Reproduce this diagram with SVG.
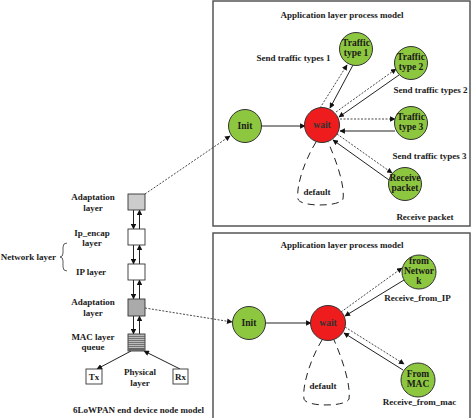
<svg xmlns="http://www.w3.org/2000/svg" width="474" height="418" viewBox="0 0 474 418">
<style>
text{font-family:"Liberation Serif","Times New Roman",serif;font-weight:bold;font-size:9px;fill:#1a1a1a}
.c{text-anchor:middle}
.r{text-anchor:end}
.n{font-size:9.5px}
.frame{fill:#fff;stroke:#555;stroke-width:1.5}
.g{fill:#8dc63f;stroke:#333;stroke-width:1}
.red{fill:#ee1c1c;stroke:#333;stroke-width:1}
.box{stroke:#333;stroke-width:0.9}
.s{fill:none;stroke:#222;stroke-width:1;marker-end:url(#ah)}
.d{fill:none;stroke:#333;stroke-width:0.9;stroke-dasharray:2 1.5;marker-end:url(#ah)}
.loop{fill:none;stroke:#222;stroke-width:1;stroke-dasharray:7 5}
</style>
<defs>
<marker id="ah" viewBox="0 0 10 10" refX="9" refY="5" markerWidth="6" markerHeight="5.5" markerUnits="userSpaceOnUse" orient="auto">
<path d="M0,0 L10,5 L0,10 z" fill="#111"/>
</marker>
</defs>
<rect width="474" height="418" fill="#fff"/>
<rect class="frame" x="213" y="1" width="257" height="225"/>
<rect class="frame" x="213" y="233" width="257" height="190"/>

<g id="connectors">
<path class="s" d="M133.5,210 L133.5,229"/>
<path class="s" d="M139.5,229 L139.5,210"/>
<path class="s" d="M133.5,245 L133.5,264"/>
<path class="s" d="M139.5,264 L139.5,245"/>
<path class="s" d="M133.5,280 L133.5,299"/>
<path class="s" d="M139.5,299 L139.5,280"/>
<path class="s" d="M133.5,316 L133.5,334"/>
<path class="s" d="M139.5,334 L139.5,316"/>
<path class="s" d="M131,351 L97,369"/>
<path class="s" d="M180,369 L144,351"/>
<path class="d" d="M145,194 L230,136"/>
<path class="d" d="M145,308 L232,322"/>
<path class="s" d="M261,126 L305,126"/>
<path class="d" d="M320,108 L347,65"/>
<path class="s" d="M353,65 L330,108"/>
<path class="d" d="M336,112 L396,69"/>
<path class="s" d="M399,75 L339,117"/>
<path class="d" d="M340,119 L395,119"/>
<path class="s" d="M395,131 L340,131"/>
<path class="d" d="M337,134 L392,173"/>
<path class="s" d="M389,180 L333,140"/>
<path class="loop" d="M316,142 C305,160 296,185 298,199 C300,207 340,207 343,199 C345,185 336,160 328,142"/>
<path class="s" d="M265,323 L311,323"/>
<path class="d" d="M341,312 L402,268"/>
<path class="s" d="M404,280 L345,316"/>
<path class="d" d="M345,327 L404,364"/>
<path class="s" d="M403,370 L344,333"/>
<path class="loop" d="M322,340 C311,358 302,385 304,399 C306,407 346,407 349,399 C351,385 342,358 334,340"/>
<path d="M67,243 Q63,243 63,247 L63,253 Q63,257 60,257 Q63,257 63,261 L63,267 Q63,271 67,271" fill="none" stroke="#333" stroke-width="0.8"/>
</g>

<g id="adapt1"><rect class="box" x="128" y="194" width="17" height="16" fill="#cccccc"/></g>
<g id="ipencap"><rect class="box" x="128" y="229" width="17" height="16" fill="#fff"/></g>
<g id="iplayer"><rect class="box" x="128" y="264" width="17" height="16" fill="#fff"/></g>
<g id="adapt2"><rect class="box" x="128" y="299" width="17" height="17" fill="#aaaaaa"/></g>
<g id="macqueue">
<rect x="128" y="334" width="17" height="17" fill="#bbb" stroke="#333" stroke-width="0.9"/>
<path d="M128,336.5 H145 M128,338.5 H145 M128,340.5 H145 M128,342.5 H145 M128,344.5 H145 M128,346.5 H145" stroke="#555" stroke-width="0.7"/>
<rect x="128" y="348" width="17" height="3" fill="#666"/>
</g>
<g id="tx"><rect class="box" x="86" y="369" width="16" height="15" fill="#fff"/><text class="c" x="94" y="380">Tx</text></g>
<g id="rx"><rect class="box" x="173" y="369" width="15" height="15" fill="#fff"/><text class="c" x="180.5" y="380">Rx</text></g>

<g id="labels-left">
<text class="c" x="93" y="200">Adaptation</text>
<text class="c" x="93" y="211">layer</text>
<text class="c" x="92" y="236">Ip_encap</text>
<text class="c" x="92" y="246">layer</text>
<text class="c" x="91" y="275">IP layer</text>
<text class="c" x="93" y="305">Adaptation</text>
<text class="c" x="93" y="316">layer</text>
<text class="c" x="93" y="340">MAC layer</text>
<text class="c" x="93" y="350">queue</text>
<text class="c" x="140" y="375">Physical</text>
<text class="c" x="140" y="386">layer</text>
<text class="r" x="56" y="260">Network layer</text>
<text class="c" x="138.5" y="413">6LoWPAN end device node model</text>
</g>

<g id="top-model">
<text class="c" x="342" y="18">Application layer process model</text>
<g id="t-init"><circle class="g" cx="245" cy="126" r="16.5"/><text class="c n" x="245" y="129">Init</text></g>
<g id="t-wait"><circle class="red" cx="322" cy="125" r="17.5"/><text class="c n" x="322" y="128" style="fill:#333">wait</text></g>
<g id="t-tt1"><circle class="g" cx="356" cy="49" r="16.5"/><text class="c n" x="356" y="46">Traffic</text><text class="c n" x="356" y="56">type 1</text></g>
<g id="t-tt2"><circle class="g" cx="411" cy="63" r="16.5"/><text class="c n" x="411" y="60">Traffic</text><text class="c n" x="411" y="70">type 2</text></g>
<g id="t-tt3"><circle class="g" cx="411" cy="123" r="16.5"/><text class="c n" x="411" y="120">Traffic</text><text class="c n" x="411" y="130">type 3</text></g>
<g id="t-rp"><circle class="g" cx="405" cy="184" r="16.5"/><text class="c n" x="405" y="181">Receive</text><text class="c n" x="405" y="191">packet</text></g>
<text class="c" x="293.5" y="61">Send traffic types 1</text>
<text class="c" x="430.5" y="93">Send traffic types 2</text>
<text class="c" x="429.5" y="159">Send traffic types 3</text>
<text class="c" x="425" y="220">Receive packet</text>
<text class="c" x="317" y="195">default</text>
</g>

<g id="bottom-model">
<text class="c" x="342" y="248">Application layer process model</text>
<g id="b-init"><circle class="g" cx="249" cy="323" r="16.5"/><text class="c n" x="249" y="326">Init</text></g>
<g id="b-wait"><circle class="red" cx="328" cy="323" r="17.5"/><text class="c n" x="328" y="326" style="fill:#333">wait</text></g>
<g id="b-fn"><circle class="g" cx="419" cy="272" r="17"/><text class="c n" x="419" y="264">from</text><text class="c n" x="419" y="274">Networ</text><text class="c n" x="419" y="284">k</text></g>
<g id="b-fm"><circle class="g" cx="418" cy="380" r="17"/><text class="c n" x="418" y="377">From</text><text class="c n" x="418" y="387">MAC</text></g>
<text class="c" x="417.5" y="301">Receive_from_IP</text>
<text class="c" x="419.5" y="405">Receive_from_mac</text>
<text class="c" x="323" y="389">default</text>
</g>
</svg>
